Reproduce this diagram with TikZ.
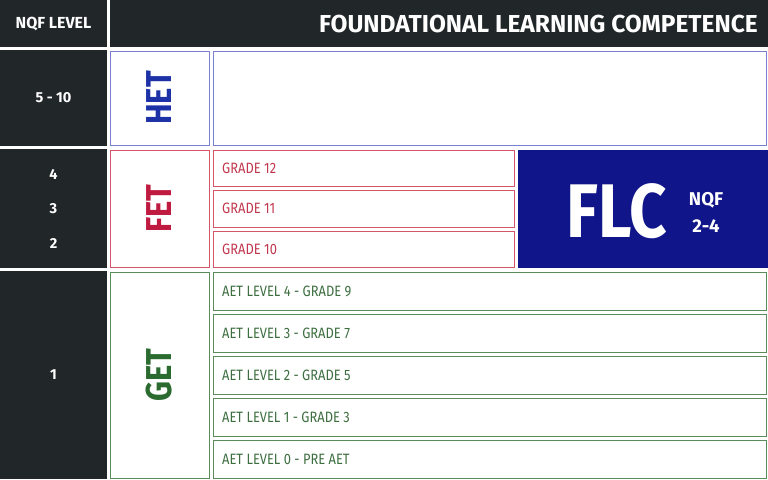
\documentclass[tikz,border=0pt]{standalone}
\usepackage{fontspec}
\setmainfont{Fira Sans}
\newfontfamily\narrowfont{Fira Sans}[FakeStretch=0.86]
\usetikzlibrary{positioning}

\definecolor{panel}{HTML}{212629}
\definecolor{hetline}{HTML}{7B7FD0}
\definecolor{hettext}{HTML}{1E32A8}
\definecolor{fetline}{HTML}{D4566A}
\definecolor{fettext}{HTML}{BF1B40}
\definecolor{gradetext}{HTML}{C2374F}
\definecolor{getline}{HTML}{5A8C5A}
\definecolor{gettext}{HTML}{2B6B30}
\definecolor{aettext}{HTML}{3D6E40}
\definecolor{flcblue}{HTML}{11158A}

\begin{document}
\begin{tikzpicture}[
    x=1pt, y=-1pt,
    cell/.style={anchor=north west, inner sep=0pt, outer sep=0pt},
    darkcell/.style={cell, fill=panel, text=white, font=\bfseries\fontsize{14.5}{17}\selectfont},
    hetbox/.style={cell, draw=hetline, line width=0.9pt},
    fetbox/.style={cell, draw=fetline, line width=0.9pt},
    getbox/.style={cell, draw=getline, line width=0.9pt},
    sidelabel/.style={rotate=90, inner sep=0pt, font=\narrowfont\bfseries\fontsize{36}{40}\selectfont},
    gradetxt/.style={inner sep=0pt, text=gradetext, font=\narrowfont\fontsize{15}{17}\selectfont},
    aettxt/.style={gradetxt, text=aettext}
]
    \useasboundingbox (0,0) rectangle (768,479);

    % Header row
    \node[darkcell, minimum width=107pt, minimum height=47pt,
          font=\bfseries\fontsize{16}{18}\selectfont] (lvlhead) at (0,0) {NQF LEVEL};
    \node[darkcell, minimum width=658pt, minimum height=47pt] (flchead) at (110,0) {};
    \node[anchor=east, inner sep=0pt, text=white, font=\bfseries\fontsize{24.5}{27}\selectfont]
        (flctitle) at (758,24) {FOUNDATIONAL LEARNING COMPETENCE};

    % NQF level column
    \node[darkcell, minimum width=107pt, minimum height=96pt] (lvlhet) at (0,50) {5 - 10};
    \node[darkcell, minimum width=107pt, minimum height=119pt, align=center,
          font=\bfseries\fontsize{14.5}{34.5}\selectfont] (lvlfet) at (0,149) {4\\3\\2};
    \node[darkcell, minimum width=107pt, minimum height=208pt] (lvlget) at (0,271) {1};

    % HET band
    \node[hetbox, minimum width=99pt, minimum height=94pt] (het) at (110,51) {};
    \node[sidelabel, text=hettext] (hetlbl) at (het.center) {HET};
    \node[hetbox, minimum width=553pt, minimum height=94pt] (hetarea) at (213,51) {};

    % FET band
    \node[fetbox, minimum width=99pt, minimum height=117pt] (fet) at (110,150) {};
    \node[sidelabel, text=fettext] (fetlbl) at (fet.center) {FET};
    \node[fetbox, minimum width=301pt, minimum height=36.5pt] (g12) at (213,150) {};
    \node[fetbox, minimum width=301pt, minimum height=36.5pt] (g11) at (213,190.5) {};
    \node[fetbox, minimum width=301pt, minimum height=36.5pt] (g10) at (213,231) {};
    \node[gradetxt, right=9pt of g12.west] (g12txt) {GRADE 12};
    \node[gradetxt, right=9pt of g11.west] (g11txt) {GRADE 11};
    \node[gradetxt, right=9pt of g10.west] (g10txt) {GRADE 10};

    % FLC block
    \node[cell, fill=flcblue, minimum width=250pt, minimum height=118pt] (flc) at (518,150) {};
    \node[inner sep=0pt, text=white, font=\narrowfont\bfseries\fontsize{76}{76}\selectfont]
        (flcword) at (617,211) {FLC};
    \node[inner sep=0pt, text=white, align=center, font=\bfseries\fontsize{18.5}{27}\selectfont]
        (flcnqf) at (706,212) {NQF\\2-4};

    % GET band
    \node[getbox, minimum width=99pt, minimum height=206pt] (get) at (110,272) {};
    \node[sidelabel, text=gettext] (getlbl) at (get.center) {GET};
    \node[getbox, minimum width=553pt, minimum height=38pt] (aet4) at (213,272) {};
    \node[getbox, minimum width=553pt, minimum height=38pt] (aet3) at (213,314) {};
    \node[getbox, minimum width=553pt, minimum height=38pt] (aet2) at (213,356) {};
    \node[getbox, minimum width=553pt, minimum height=38pt] (aet1) at (213,398) {};
    \node[getbox, minimum width=553pt, minimum height=38pt] (aet0) at (213,440) {};
    \node[aettxt, right=9pt of aet4.west] (aet4txt) {AET LEVEL 4 - GRADE 9};
    \node[aettxt, right=9pt of aet3.west] (aet3txt) {AET LEVEL 3 - GRADE 7};
    \node[aettxt, right=9pt of aet2.west] (aet2txt) {AET LEVEL 2 - GRADE 5};
    \node[aettxt, right=9pt of aet1.west] (aet1txt) {AET LEVEL 1 - GRADE 3};
    \node[aettxt, right=9pt of aet0.west] (aet0txt) {AET LEVEL 0 - PRE AET};
\end{tikzpicture}
\end{document}
